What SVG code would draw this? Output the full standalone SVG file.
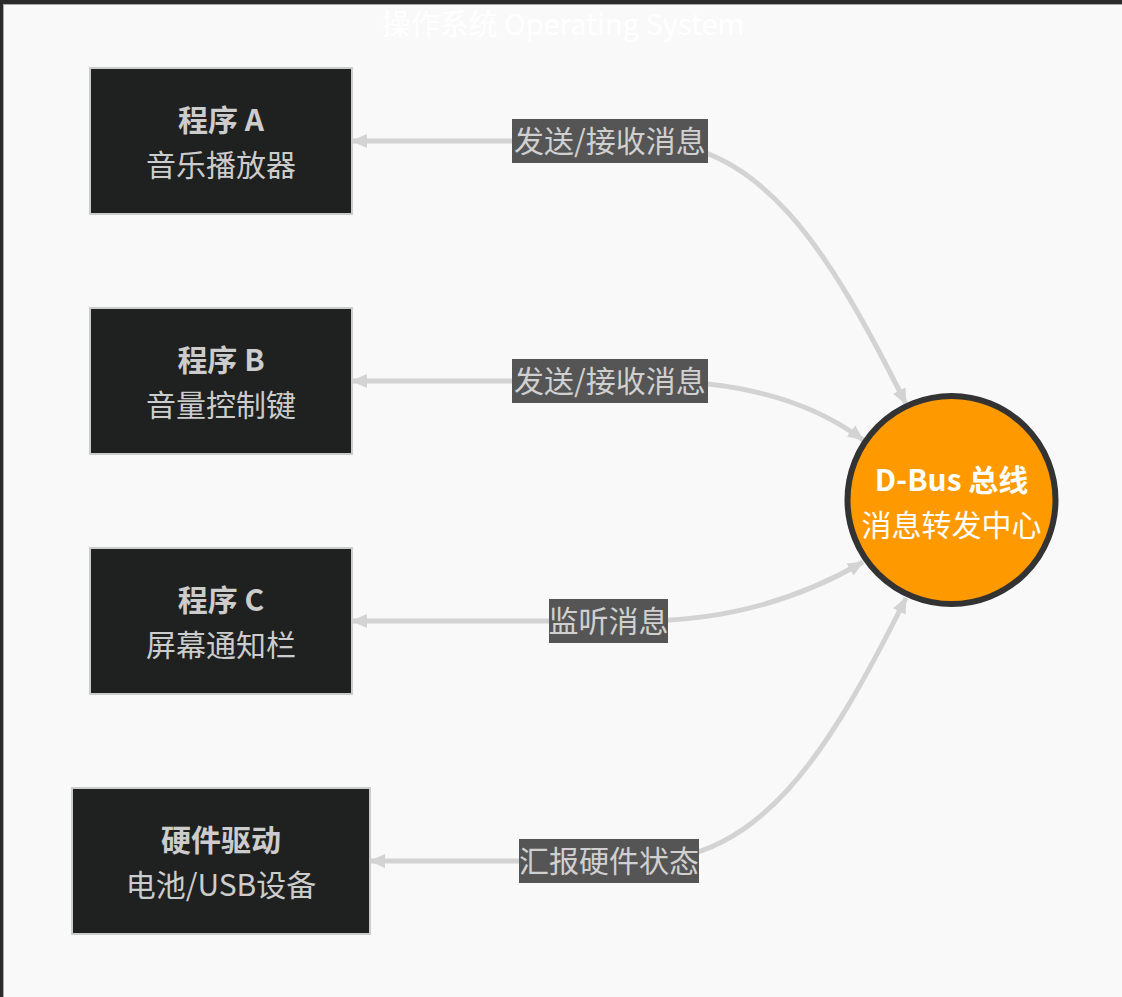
<svg xmlns="http://www.w3.org/2000/svg" width="1122" height="997" viewBox="0 0 1122 997">
<style>
.t{font-family:"Noto Sans CJK SC","Noto Sans",sans-serif;font-size:30px;text-anchor:middle}
.nb{fill:#1f2020;stroke:#cccccc;stroke-width:2}
.nt{fill:#cccccc}
.b{font-weight:bold}
.e{fill:none;stroke:#d3d3d3;stroke-width:5}
.lb{fill:#555555}
.lt{fill:#d0d0d0}
</style>
<defs>
<marker id="ah" markerUnits="userSpaceOnUse" viewBox="0 0 16 16" refX="15" refY="8" markerWidth="16" markerHeight="16" orient="auto-start-reverse">
<path d="M0,1 L16,8 L0,15 z" fill="#d3d3d3"/>
</marker>
</defs>
<rect x="0" y="0" width="1122" height="997" fill="#2b2b2b"/>
<rect x="3.5" y="4.5" width="1130" height="1010" fill="#f9f9f9" stroke="#aaaaaa" stroke-width="1"/>
<text x="563" y="35" class="t" style="font-size:29px;fill:#ffffff">操作系统 Operating System</text>
<g id="connectors">
<path class="e" marker-start="url(#ah)" marker-end="url(#ah)" d="M352,141 L640,141 C760,141 826,244 906,404"/>
<path class="e" marker-start="url(#ah)" marker-end="url(#ah)" d="M352,381 L650,381 C740,381 810,400 863,440"/>
<path class="e" marker-start="url(#ah)" marker-end="url(#ah)" d="M352,621 L640,621 C740,621 815,590 863,562"/>
<path class="e" marker-start="url(#ah)" marker-end="url(#ah)" d="M370,861 L640,861 C760,861 826,758 906,598"/>
<g id="label-a">
<rect class="lb" x="512" y="119" width="196" height="44"/>
<text class="t lt" x="610" y="152">发送/接收消息</text>
</g>
<g id="label-b">
<rect class="lb" x="512" y="359" width="196" height="44"/>
<text class="t lt" x="610" y="392">发送/接收消息</text>
</g>
<g id="label-c">
<rect class="lb" x="549" y="599" width="119" height="44"/>
<text class="t lt" x="608.5" y="632">监听消息</text>
</g>
<g id="label-hw">
<rect class="lb" x="519" y="839" width="180" height="44"/>
<text class="t lt" x="609" y="872">汇报硬件状态</text>
</g>
</g>
<g id="node-a">
<rect class="nb" x="90" y="68" width="262" height="146"/>
<text class="t nt b" x="221" y="130.5">程序 A</text>
<text class="t nt" x="221" y="176">音乐播放器</text>
</g>
<g id="node-b">
<rect class="nb" x="90" y="308" width="262" height="146"/>
<text class="t nt b" x="221" y="370.5">程序 B</text>
<text class="t nt" x="221" y="416">音量控制键</text>
</g>
<g id="node-c">
<rect class="nb" x="90" y="548" width="262" height="146"/>
<text class="t nt b" x="221" y="610.5">程序 C</text>
<text class="t nt" x="221" y="656">屏幕通知栏</text>
</g>
<g id="node-hw">
<rect class="nb" x="72" y="788" width="298" height="146"/>
<text class="t nt b" x="221" y="850.5">硬件驱动</text>
<text class="t nt" x="221" y="896">电池/USB设备</text>
</g>
<g id="node-dbus">
<circle cx="951.5" cy="500" r="104" fill="#ff9900" stroke="#333333" stroke-width="6"/>
<text class="t b" x="951.5" y="491" style="fill:#ffffff">D-Bus 总线</text>
<text class="t" x="951.5" y="536" style="fill:#ffffff">消息转发中心</text>
</g>
</svg>
